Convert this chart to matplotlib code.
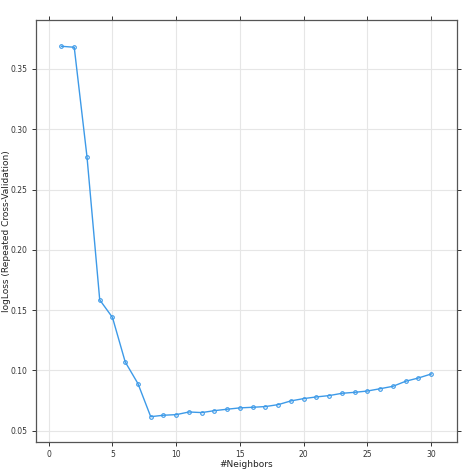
import numpy as np
import matplotlib
matplotlib.use("Agg")
import matplotlib.pyplot as plt

# Valores (k vecinos vs logLoss)
neighbors = list(range(1, 31))
logloss = [0.3688, 0.3680, 0.2773, 0.1585, 0.1439, 0.1070, 0.0890, 0.0616,
           0.0628, 0.0633, 0.0655, 0.0650, 0.0666, 0.0678, 0.0689, 0.0694,
           0.0700, 0.0716, 0.0747, 0.0766, 0.0780, 0.0791, 0.0810, 0.0818,
           0.0829, 0.0848, 0.0868, 0.0910, 0.0937, 0.0970]
xticks = [0, 5, 10, 15, 20, 25, 30]
yticks = [0.05, 0.10, 0.15, 0.20, 0.25, 0.30, 0.35]

fig = plt.figure(figsize=(4.74, 4.74), dpi=100)
ax = fig.add_axes([0.0759, 0.0675, 0.8876, 0.8903])

color = "#3d9ae8"
ax.plot(neighbors, logloss, color=color, linewidth=1.0, marker="o",
        markersize=2.6, markerfacecolor="none", markeredgecolor=color,
        markeredgewidth=0.8)

ax.set_xlim(-1.0, 32.0)
ax.set_ylim(0.0406, 0.3906)
ax.set_xticks(xticks)
ax.set_yticks(yticks)
ax.set_xticklabels([str(t) for t in xticks])
ax.set_yticklabels(["%.2f" % t for t in yticks])

ax.grid(True, color="#e6e6e6", linewidth=0.8)
ax.set_axisbelow(True)

for s in ax.spines.values():
    s.set_color("#555555")
    s.set_linewidth(0.9)

ax.tick_params(axis="both", direction="out", length=3, width=0.7,
               colors="#333333", labelsize=5.5, pad=3,
               top=True, right=True, labeltop=False, labelright=False)

ax.set_xlabel("#Neighbors", fontsize=6.5, color="#222222", va="center")
ax.set_ylabel("logLoss (Repeated Cross-Validation)", fontsize=6.5,
              color="#222222", va="center")
ax.xaxis.set_label_coords(0.5, -0.054)
ax.yaxis.set_label_coords(-0.070, 0.5)

fig.savefig("out.png", dpi=100)
